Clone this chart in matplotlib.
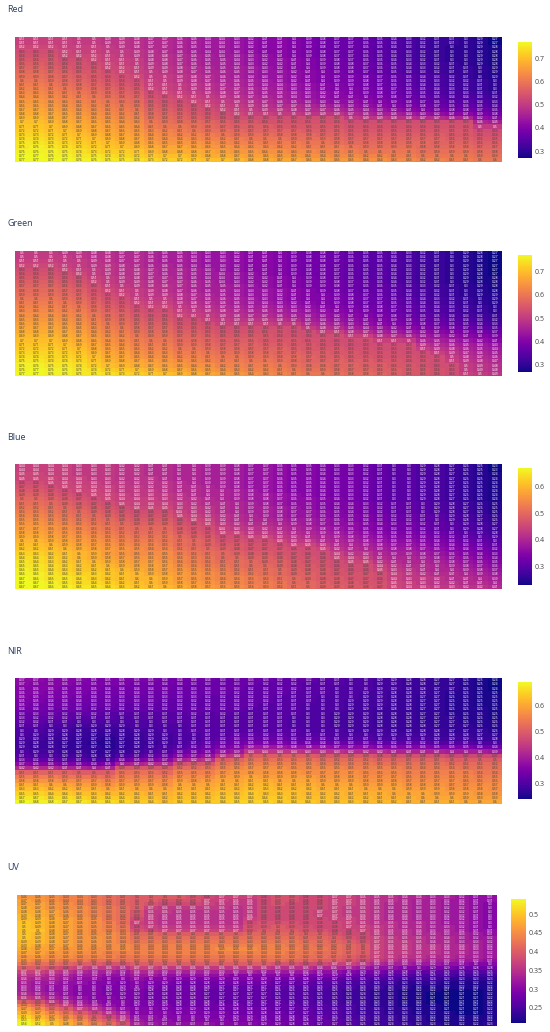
import numpy as np
import matplotlib
matplotlib.use('Agg')
import matplotlib.pyplot as plt

plt.rcParams['font.family'] = ['Open Sans', 'DejaVu Sans']

# Valores, en centesimas.
# Una cadena por columna (de izquierda a derecha), fila superior primero.
red_cols = [
    "51 51 52 53 54 55 56 57 58 59 60 61 62 63 64 65 66 67 68 69 70 71 72 73 74 75 75 76 77 77",
    "51 51 52 53 54 55 56 57 58 59 60 61 62 63 64 65 66 67 68 69 70 71 72 73 74 75 76 76 77 77",
    "51 51 52 53 54 55 55 56 57 58 59 60 61 62 63 64 65 66 67 68 69 70 71 72 73 74 75 76 76 77",
    "51 51 51 52 52 53 54 55 56 57 58 59 60 61 62 63 64 65 66 67 68 69 70 71 72 73 74 75 76 77",
    "50 50 51 51 52 53 54 54 55 56 57 58 59 60 61 62 63 64 65 66 67 68 69 70 71 72 73 74 75 76",
    "50 50 51 51 52 52 53 54 55 55 56 57 58 59 60 61 62 63 64 65 66 67 68 69 70 71 72 73 75 76",
    "49 49 50 50 51 51 52 52 53 54 55 56 57 58 59 60 61 62 63 64 65 66 67 68 69 70 71 72 74 75",
    "49 49 49 50 50 51 51 52 52 53 54 55 56 57 58 59 60 61 62 63 64 65 66 67 68 69 70 72 73 75",
    "48 48 48 49 49 50 50 51 51 52 53 54 55 56 57 58 59 60 61 62 63 64 65 66 67 68 69 71 72 74",
    "47 47 47 48 48 48 49 49 50 50 51 51 52 53 54 55 56 57 58 59 60 61 63 64 65 66 68 69 71 73",
    "47 47 47 47 48 48 48 49 49 50 50 51 51 52 53 54 55 56 57 58 59 60 62 63 64 65 67 68 70 72",
    "46 46 46 46 47 47 47 48 48 49 49 50 50 51 52 53 54 55 56 57 58 60 61 62 64 65 67 68 70 72",
    "45 45 45 45 46 46 46 47 47 48 48 49 49 50 51 52 53 54 55 56 58 59 60 62 63 65 66 68 69 71",
    "44 44 44 44 45 45 45 46 46 47 47 48 48 49 50 51 52 53 54 55 57 58 59 61 62 64 65 67 68 70",
    "44 44 44 44 44 45 45 45 46 46 46 47 47 48 49 50 51 52 53 54 56 57 59 60 62 63 65 66 68 70",
    "43 43 43 43 44 44 44 45 45 45 46 46 47 47 48 49 50 51 52 53 55 56 58 59 61 62 64 65 67 69",
    "42 42 42 42 43 43 43 44 44 44 45 45 46 46 47 48 49 50 51 53 55 56 57 59 60 62 63 65 66 68",
    "41 41 41 41 42 42 42 43 43 43 44 44 45 45 46 47 48 49 51 53 54 56 57 59 60 61 63 64 66 68",
    "41 41 41 41 41 42 42 42 43 43 43 44 44 45 45 46 47 49 50 53 54 55 57 58 60 61 62 64 65 67",
    "40 40 40 40 40 41 41 41 42 42 42 43 43 44 44 45 47 48 50 53 54 55 57 58 59 61 62 63 65 67",
    "39 39 39 39 39 40 40 40 41 41 41 42 42 43 43 44 46 47 49 53 54 55 56 58 59 60 61 63 64 66",
    "38 38 38 38 38 39 39 39 40 40 40 41 41 42 42 43 45 47 49 53 54 55 56 57 59 60 61 62 64 66",
    "37 37 37 37 37 38 38 38 39 39 39 40 40 41 41 42 44 46 49 53 54 55 56 57 58 59 61 62 63 65",
    "37 37 37 37 37 37 38 38 38 39 39 39 40 40 41 42 43 45 47 50 53 54 55 56 57 58 60 61 63 65",
    "36 36 36 36 36 36 37 37 37 38 38 38 39 39 40 41 42 44 46 49 53 54 55 56 57 58 59 60 62 64",
    "35 35 35 35 35 35 36 36 36 37 37 37 38 38 39 40 41 43 45 49 53 54 55 56 57 58 59 60 62 64",
    "34 34 34 34 34 34 35 35 35 36 36 36 37 37 38 39 40 42 45 48 53 54 55 56 57 58 59 60 61 63",
    "33 33 33 33 33 33 34 34 34 35 35 35 36 36 37 38 39 41 44 48 53 54 55 56 57 58 59 60 61 63",
    "32 32 32 32 32 32 33 33 33 34 34 34 35 35 36 37 38 40 43 47 53 54 55 56 57 58 58 59 60 62",
    "31 31 31 31 31 31 32 32 32 33 33 33 34 34 35 36 37 39 42 47 53 54 55 56 57 57 58 59 60 62",
    "31 31 30 30 30 30 31 31 31 32 32 32 33 33 34 35 36 38 41 46 53 54 55 55 56 57 58 59 60 61",
    "30 30 30 30 30 30 30 31 31 31 32 32 32 33 34 35 36 38 41 46 53 54 55 55 56 57 58 59 60 61",
    "29 29 29 29 29 29 29 30 30 30 31 31 31 32 33 34 35 37 39 42 46 50 53 54 55 56 57 58 59 60",
    "27 27 28 28 28 28 28 29 29 29 30 30 30 31 32 33 34 36 38 41 45 50 53 54 55 56 57 58 59 60",
]

green_cols = [
    "50 50 51 52 53 54 55 56 57 58 59 60 61 62 63 64 65 66 67 68 69 70 71 72 73 74 75 76 76 77",
    "50 50 51 52 53 54 55 56 57 58 59 60 61 62 63 64 65 66 67 68 69 70 71 72 73 74 75 76 77 77",
    "50 50 51 52 53 54 55 56 57 58 59 60 61 62 63 64 65 66 67 68 69 70 71 72 73 73 74 75 76 76",
    "49 50 50 51 52 53 54 55 56 57 58 59 60 61 62 63 64 65 66 67 68 69 70 71 72 73 74 75 76 76",
    "49 49 50 50 51 52 53 54 55 56 57 58 59 60 61 62 63 64 65 66 67 68 69 70 71 72 73 74 75 75",
    "48 48 49 49 50 50 51 52 53 54 55 56 57 58 59 60 61 62 63 64 65 66 67 68 69 70 71 72 74 75",
    "48 48 48 49 49 49 50 50 51 52 53 54 55 56 57 58 59 60 61 62 63 64 65 66 67 68 69 70 72 74",
    "47 47 47 48 48 48 49 49 50 51 52 53 54 55 56 57 58 59 60 61 62 63 64 65 66 67 68 69 71 73",
    "47 47 47 47 48 48 48 49 49 50 50 51 52 53 54 55 56 57 58 59 60 61 62 63 64 65 67 68 70 72",
    "46 46 46 46 47 47 47 48 48 49 49 50 51 52 53 54 55 56 57 58 59 60 61 62 63 64 66 67 69 71",
    "45 45 45 46 46 46 47 47 48 48 49 50 51 52 53 54 55 56 57 58 59 60 61 62 63 64 65 66 68 70",
    "45 45 45 45 46 46 46 47 47 47 48 48 49 50 51 52 53 54 55 56 57 58 59 60 61 62 64 65 67 69",
    "44 44 44 44 45 45 45 46 46 46 47 47 48 49 50 51 53 54 55 56 57 58 59 60 61 62 63 64 66 68",
    "43 43 43 43 44 44 44 45 45 45 46 46 47 48 49 50 51 53 54 55 56 57 58 59 60 61 62 64 65 67",
    "43 43 43 43 43 44 44 44 45 45 45 46 46 47 48 49 50 51 53 54 55 56 57 58 59 60 61 62 64 66",
    "42 42 42 42 42 43 43 43 44 44 44 45 45 46 47 48 49 51 53 54 55 56 57 58 59 60 61 62 63 65",
    "41 41 41 41 41 42 42 42 43 43 43 44 44 45 46 47 49 51 53 54 55 56 57 57 58 59 60 61 62 64",
    "41 41 41 41 41 41 42 42 42 43 43 43 44 45 46 47 49 51 53 54 55 55 56 57 58 59 60 61 62 63",
    "40 40 40 40 40 40 41 41 41 42 42 42 43 44 45 46 48 50 53 54 54 55 56 57 57 58 59 60 61 62",
    "39 39 39 39 39 39 40 40 40 41 41 41 42 43 44 45 47 50 53 53 54 55 55 56 57 58 58 59 60 61",
    "38 38 38 38 38 38 39 39 39 40 40 40 41 42 43 44 45 47 50 53 53 54 55 55 56 57 57 58 59 60",
    "38 38 38 38 38 38 38 39 39 39 40 40 40 41 42 43 44 46 48 51 53 54 54 55 56 56 57 58 59 60",
    "37 37 37 37 37 37 37 38 38 38 39 39 39 40 41 42 43 45 47 51 53 53 54 55 55 56 57 57 58 59",
    "36 36 36 36 36 36 36 37 37 37 38 38 38 39 40 41 42 43 45 48 51 53 53 54 55 55 56 57 57 58",
    "35 35 35 35 35 35 35 36 36 36 37 37 37 38 39 40 41 42 44 47 51 53 53 54 54 55 56 56 57 58",
    "35 35 35 35 35 35 35 35 36 36 36 37 37 38 38 39 40 41 43 45 48 51 53 53 54 54 55 56 56 57",
    "34 34 34 34 34 34 34 34 35 35 35 36 36 37 37 38 39 40 42 44 47 51 53 53 54 54 55 55 56 56",
    "33 33 33 33 33 33 33 33 34 34 34 35 35 36 36 37 38 39 41 43 46 50 53 53 53 54 54 55 55 55",
    "32 32 32 32 32 32 32 32 33 33 33 34 34 35 35 36 37 38 40 42 44 46 49 51 53 53 54 54 55 55",
    "31 31 31 31 31 31 31 31 32 32 32 33 33 34 34 35 36 37 39 41 43 45 47 49 51 53 53 53 54 54",
    "30 30 30 30 30 30 30 30 31 31 31 32 32 33 33 34 35 36 38 40 42 44 46 48 49 50 51 53 53 53",
    "29 29 29 29 29 29 29 29 30 30 30 31 31 32 32 33 34 35 37 39 41 43 45 46 47 48 49 50 50 51",
    "28 28 28 28 28 28 28 28 29 29 29 30 30 31 31 32 33 34 36 38 40 42 44 45 46 47 48 49 49 50",
    "27 27 27 27 27 27 28 28 28 28 29 29 29 30 30 31 32 33 35 37 39 41 43 44 45 46 47 48 48 49",
]

blue_cols = [
    "44 44 45 45 46 47 48 49 50 51 52 53 54 55 56 57 58 59 60 61 62 63 64 65 65 66 66 67 67 67",
    "44 44 45 45 46 47 48 49 50 51 52 53 54 55 56 57 58 59 60 61 62 63 64 64 65 65 66 66 67 67",
    "44 44 44 45 45 46 47 48 49 50 51 52 53 54 55 56 57 58 59 60 61 62 63 63 64 64 65 65 66 66",
    "44 44 44 44 45 45 46 47 48 49 50 51 52 53 54 55 56 57 58 59 60 61 62 62 63 63 64 65 65 66",
    "43 43 43 44 44 45 45 46 47 48 49 50 51 52 53 54 55 56 57 58 59 60 60 61 62 62 63 64 64 65",
    "43 43 43 43 44 44 45 45 46 47 48 49 50 51 52 53 54 55 56 57 58 59 59 60 61 62 63 63 64 65",
    "43 43 43 43 43 44 44 45 45 46 47 48 49 50 51 52 53 54 55 56 57 57 58 59 60 61 62 62 63 64",
    "42 42 42 42 43 43 43 44 44 45 46 47 48 49 50 51 52 53 54 55 56 56 57 58 59 60 61 61 62 63",
    "42 42 42 42 42 43 43 43 44 44 45 46 47 48 49 50 51 52 53 54 55 55 56 57 58 59 60 60 61 62",
    "41 41 41 42 42 42 43 43 44 44 45 46 47 48 49 50 51 52 53 54 54 55 56 57 58 58 59 60 60 61",
    "41 41 41 41 42 42 42 43 43 44 45 46 47 48 49 50 51 52 52 53 54 55 55 56 57 57 58 59 59 60",
    "40 40 40 40 41 41 41 42 42 43 43 44 45 46 47 48 49 50 51 51 52 53 54 54 55 56 57 57 58 59",
    "40 40 40 40 40 41 41 41 42 42 43 43 44 45 46 47 48 49 50 50 51 52 53 53 54 55 56 56 57 58",
    "39 39 39 39 39 40 40 40 41 41 42 42 43 44 45 46 47 48 49 49 50 51 52 52 53 54 55 55 56 57",
    "39 39 39 39 39 39 40 40 40 41 41 41 42 42 43 44 45 46 47 48 49 50 50 51 52 53 54 54 55 56",
    "38 38 38 38 38 38 39 39 39 40 40 40 41 41 42 43 45 46 47 48 48 49 50 51 51 52 53 54 54 55",
    "37 37 37 37 37 37 38 38 38 39 39 39 40 40 41 42 43 45 46 47 47 48 49 50 50 51 52 53 53 54",
    "37 37 37 37 37 37 37 38 38 38 39 39 39 40 41 42 43 45 46 47 47 48 49 49 50 51 51 52 53 53",
    "36 36 36 36 36 36 36 37 37 37 38 38 38 39 40 41 42 43 45 46 47 47 48 49 49 50 50 51 52 52",
    "35 35 35 35 35 35 35 36 36 36 37 37 37 38 39 40 41 42 43 45 46 47 47 48 48 49 49 50 50 51",
    "35 35 35 35 35 35 35 35 36 36 36 37 37 38 38 39 40 41 43 45 46 46 47 47 48 48 49 49 50 50",
    "34 34 34 34 34 34 34 34 35 35 35 36 36 37 37 38 39 40 41 43 45 46 46 47 47 48 48 48 49 49",
    "33 33 33 33 33 33 33 33 34 34 34 35 35 36 36 37 38 39 40 41 42 44 45 46 46 47 47 48 48 49",
    "33 33 33 33 33 33 33 33 33 34 34 34 35 35 36 36 37 38 39 40 41 42 44 45 46 46 47 47 48 48",
    "32 32 32 32 32 32 32 32 32 33 33 33 34 34 35 35 36 37 38 39 40 42 43 45 46 46 47 47 47 48",
    "31 31 31 31 31 31 31 31 31 32 32 32 33 33 34 34 35 36 37 38 39 40 41 42 44 45 46 46 47 47",
    "30 30 30 30 30 30 30 30 30 31 31 31 32 32 33 33 34 35 36 37 38 39 40 41 42 43 44 44 45 45",
    "30 30 30 30 30 30 30 30 30 31 31 31 32 32 33 33 34 35 36 37 38 39 40 40 41 42 43 43 44 44",
    "29 29 29 29 29 29 29 29 29 30 30 30 31 31 32 32 33 34 35 36 37 38 39 40 41 41 42 43 43 44",
    "28 28 28 28 28 28 28 28 28 29 29 29 30 30 31 31 32 33 34 35 36 37 38 39 40 40 41 42 42 43",
    "27 27 27 27 27 27 27 27 27 28 28 28 29 29 30 30 31 32 33 34 35 36 37 38 39 40 41 41 42 43",
    "26 26 26 26 26 26 26 26 26 27 27 27 28 28 29 29 30 31 32 33 34 35 36 37 38 39 40 41 41 42",
    "25 25 25 25 25 25 25 25 25 26 26 26 27 27 28 28 29 30 31 32 33 34 35 36 37 38 39 40 41 42",
    "23 23 24 24 24 24 24 24 24 25 25 25 26 26 27 27 28 29 30 31 32 33 34 35 36 37 38 39 40 41",
]

nir_cols = [
    "37 37 36 36 36 35 35 34 33 33 32 31 30 30 29 29 29 30 31 33 37 42 51 55 58 61 63 65 67 69",
    "37 36 36 36 35 35 34 34 33 32 32 31 30 29 29 28 28 29 30 32 36 42 51 55 58 61 63 65 67 68",
    "36 36 36 35 35 34 34 33 33 32 31 30 29 29 28 28 28 29 30 32 36 42 51 55 58 60 62 64 66 68",
    "36 36 35 35 35 34 34 33 32 32 31 30 29 28 28 27 27 28 29 31 35 41 51 54 57 60 62 64 66 67",
    "36 35 35 35 34 34 33 33 32 31 30 29 28 28 27 27 27 28 29 31 35 41 50 54 57 59 61 63 65 67",
    "35 35 35 34 34 33 33 32 32 31 30 29 28 27 27 26 27 27 28 30 34 40 50 54 57 59 61 63 64 66",
    "35 35 34 34 34 33 33 32 31 31 30 29 28 27 26 26 26 27 28 30 35 41 50 53 56 58 60 62 64 66",
    "35 35 34 34 33 33 32 32 31 30 30 29 28 28 27 27 27 28 30 34 40 49 53 55 57 59 61 62 64 65",
    "35 34 34 34 33 33 32 32 31 31 30 30 29 28 28 28 28 29 31 35 41 49 53 55 57 59 60 62 63 64",
    "35 34 34 33 33 33 32 32 31 31 30 30 29 29 29 28 29 30 32 36 42 49 53 55 57 59 60 61 63 64",
    "34 34 34 33 33 32 32 32 31 31 31 30 30 29 29 29 30 31 33 37 42 49 52 55 57 58 60 61 62 63",
    "34 34 33 33 33 32 32 32 31 31 31 30 30 30 30 30 31 33 36 41 48 52 55 57 59 60 61 62 63 64",
    "34 33 33 33 33 32 32 32 32 31 31 31 31 30 30 31 32 34 37 42 49 52 55 57 58 60 61 62 63 64",
    "34 33 33 33 32 32 32 32 31 31 31 31 31 31 31 32 33 35 38 43 49 53 55 57 59 60 61 62 63 64",
    "33 33 33 33 32 32 32 32 32 31 31 31 31 31 32 33 35 38 43 50 53 55 57 59 60 61 62 63 64 64",
    "33 33 33 32 32 32 32 32 31 31 31 31 31 32 33 34 36 39 44 51 54 56 58 59 60 61 62 63 64 65",
    "33 33 32 32 32 32 32 31 31 31 31 31 31 32 33 35 39 44 50 53 55 57 58 60 61 62 63 64 64 65",
    "33 32 32 32 32 32 31 31 31 31 31 31 31 32 33 35 39 44 50 53 55 57 58 59 61 62 63 63 64 65",
    "32 32 32 32 31 31 31 31 31 31 31 31 31 32 33 35 39 44 50 53 55 57 58 59 60 61 62 63 64 64",
    "32 32 32 31 31 31 31 31 31 30 30 30 31 31 32 34 38 44 50 53 55 56 58 59 60 61 62 63 63 64",
    "32 31 31 31 31 31 30 30 30 30 30 30 30 31 32 34 38 43 50 53 55 56 57 59 60 61 62 62 63 64",
    "31 31 31 31 30 30 30 30 30 30 30 30 30 31 32 34 38 43 49 52 54 56 57 58 59 60 61 62 63 63",
    "31 31 30 30 30 30 30 30 29 29 29 29 30 30 31 33 37 43 49 52 54 56 57 58 59 60 61 62 62 63",
    "30 30 30 30 30 29 29 29 29 29 29 29 29 30 31 33 37 42 49 52 54 55 57 58 59 60 61 61 62 63",
    "30 30 30 29 29 29 29 29 29 29 29 29 29 30 31 33 37 42 49 52 54 55 56 57 58 59 60 61 62 62",
    "29 29 29 29 29 29 29 28 28 28 28 28 29 29 30 32 36 42 48 51 53 55 56 57 58 59 60 61 61 62",
    "29 29 29 28 28 28 28 28 28 28 28 28 28 29 30 32 36 41 48 51 53 55 56 57 58 59 60 60 61 62",
    "28 28 28 28 28 28 28 28 28 28 28 28 28 29 30 32 36 41 48 51 53 54 55 56 57 58 59 60 61 61",
    "28 28 28 28 27 27 27 27 27 27 27 28 28 29 30 32 36 41 48 51 53 54 55 56 57 58 59 60 60 61",
    "27 27 27 27 27 27 27 27 27 27 27 27 28 28 29 31 35 41 48 51 53 54 55 56 57 58 59 59 60 61",
    "27 27 27 26 26 26 26 26 26 27 27 27 27 28 29 31 35 40 47 50 52 54 55 56 57 57 58 59 60 61",
    "26 26 26 26 26 26 26 26 26 26 26 27 27 28 29 31 35 40 47 50 52 53 55 56 56 57 58 59 59 60",
    "25 25 25 25 25 25 25 26 26 26 26 26 27 27 28 30 34 40 47 50 52 53 54 55 56 57 58 58 59 60",
    "24 24 24 25 25 25 25 25 25 25 26 26 26 27 28 30 34 39 47 50 52 53 54 55 56 57 57 58 59 60",
]

uv_cols = [
    "46 47 47 48 48 49 49 50 50 50 50 50 49 49 48 47 46 45 43 40 37 35 34 33 33 33 34 36 40 44 47 49 51 53 54",
    "46 46 47 47 48 48 49 49 49 50 49 49 49 48 47 47 46 44 42 40 37 35 33 32 32 32 33 35 39 42 45 47 49 51 52",
    "45 45 46 46 47 47 48 48 48 48 48 48 48 47 47 46 45 44 42 39 36 34 33 32 31 31 32 33 36 39 42 45 47 49 50",
    "44 44 45 45 46 46 47 47 47 47 47 47 47 47 46 46 45 43 41 38 35 33 32 31 31 31 31 32 34 37 40 43 45 47 48",
    "44 44 44 45 45 45 46 46 46 46 46 46 46 46 46 45 44 43 40 37 34 32 31 31 30 30 30 31 32 34 37 40 43 45 46",
    "43 43 43 44 44 44 45 45 45 45 45 46 46 46 45 45 44 42 40 36 33 32 31 30 30 30 30 30 31 33 35 38 40 42 44",
    "42 42 42 43 43 43 43 44 44 44 45 45 45 45 45 44 44 42 39 36 33 31 30 30 29 29 29 30 30 31 33 35 38 40 42",
    "41 41 41 42 42 42 42 42 43 43 44 44 44 45 45 44 43 42 39 35 32 31 30 29 29 29 29 29 30 30 31 33 35 37 39",
    "40 40 40 40 39 39 38 37 38 39 41 42 43 44 44 44 43 42 40 37 34 32 31 30 30 29 29 29 29 29 30 30 31 32 33",
    "40 40 39 37 36 36 36 36 37 38 41 42 43 44 44 44 43 42 40 37 34 32 30 29 29 28 28 28 29 29 30 30 31 31 32",
    "40 39 38 36 36 35 35 35 36 37 40 42 43 44 44 44 43 42 40 36 33 31 30 29 28 28 28 28 28 29 29 30 30 31 31",
    "40 39 38 36 35 35 35 35 36 37 40 42 43 44 44 44 43 42 40 36 33 31 29 28 28 28 28 28 28 28 29 29 30 30 31",
    "39 39 38 36 35 35 35 35 36 37 40 42 43 44 44 44 43 42 40 36 33 31 29 28 28 28 28 28 28 28 29 29 30 30 31",
    "38 37 37 36 35 35 35 35 36 37 40 42 43 44 44 44 43 42 40 36 33 31 29 28 28 27 27 27 28 28 28 29 29 30 31",
    "37 37 36 36 35 35 35 35 36 37 40 42 43 44 45 44 43 42 40 36 33 31 29 28 27 27 27 27 27 28 28 29 29 30 30",
    "37 36 36 35 35 35 35 35 36 37 40 42 43 44 45 44 43 42 40 36 33 30 29 28 27 27 27 27 27 28 28 28 29 29 30",
    "37 36 36 36 36 36 37 38 39 39 41 42 43 44 45 44 43 42 40 36 33 30 29 28 27 27 27 27 27 27 28 28 29 29 30",
    "38 38 38 38 38 38 38 39 39 40 41 42 43 44 44 44 43 42 40 36 32 30 29 28 27 27 27 27 27 27 28 28 28 29 29",
    "39 39 39 38 38 38 38 39 40 40 41 42 43 44 44 44 43 42 39 35 32 30 28 27 27 26 26 26 27 27 27 28 28 28 29",
    "39 39 38 38 38 38 38 39 39 40 41 42 43 43 44 43 43 41 39 35 32 30 28 27 26 26 26 26 26 27 27 27 28 28 28",
    "38 38 38 38 38 38 38 38 39 39 40 41 42 43 43 43 42 41 38 35 32 29 28 27 26 26 26 26 26 26 27 27 27 28 28",
    "38 38 38 38 37 37 38 38 38 39 40 41 42 42 43 42 42 40 38 34 31 29 27 26 26 25 25 25 25 26 26 26 27 27 27",
    "37 37 37 37 37 37 37 38 38 38 39 40 41 42 42 42 41 40 37 34 31 29 27 26 25 25 25 25 25 25 26 26 26 27 27",
    "37 37 37 36 36 36 37 37 37 38 38 39 40 41 41 41 40 39 37 33 30 28 26 25 25 24 24 24 24 25 25 25 25 26 26",
    "36 36 36 36 36 36 36 36 37 37 38 38 39 40 40 40 39 38 36 32 29 27 26 25 24 24 24 24 24 24 24 24 25 25 25",
    "35 35 35 35 35 35 35 35 36 36 36 37 37 37 37 37 37 36 34 31 29 27 25 24 24 23 23 23 23 23 24 24 24 24 24",
    "35 35 34 34 34 34 34 35 35 35 35 36 36 36 36 36 36 35 33 31 28 26 25 24 23 23 23 23 23 23 23 23 24 24 24",
    "34 34 34 34 34 34 34 34 34 35 35 35 36 36 36 36 35 34 33 30 28 26 24 23 23 22 22 22 22 22 23 23 23 23 24",
    "34 33 33 33 33 33 33 34 34 34 34 35 35 35 35 35 35 34 32 30 27 25 24 23 22 22 22 22 22 22 22 22 23 23 23",
    "33 33 33 33 33 33 33 33 33 33 34 34 34 35 35 35 34 33 32 29 27 25 24 23 22 22 21 21 21 22 22 22 22 22 23",
    "33 32 32 32 32 32 32 32 33 33 33 34 34 34 34 34 34 33 31 29 26 25 23 22 22 21 21 21 21 21 21 22 22 22 22",
    "32 32 32 32 32 32 32 32 32 32 33 33 33 34 34 34 33 32 31 28 26 24 23 22 22 21 21 21 21 21 21 21 22 22 22",
    "31 31 31 31 31 31 31 31 31 31 32 32 33 33 33 33 33 32 30 28 26 24 23 22 22 21 21 21 21 21 21 21 22 22 22",
    "31 31 30 30 30 30 30 30 30 31 31 32 32 32 32 32 32 31 30 28 26 24 23 22 22 22 22 22 22 22 22 22 22 22 23",
]

band_names = ['Red', 'Green', 'Blue', 'NIR', 'UV']
band_cols = [red_cols, green_cols, blue_cols, nir_cols, uv_cols]
cbar_ticks = [
    [0.3, 0.4, 0.5, 0.6, 0.7],
    [0.3, 0.4, 0.5, 0.6, 0.7],
    [0.3, 0.4, 0.5, 0.6],
    [0.3, 0.4, 0.5, 0.6],
    [0.25, 0.3, 0.35, 0.4, 0.45, 0.5],
]

W, H = 550, 1032
# cajas en pixeles (x0, y0, x1, y1), y medido desde arriba
heat_boxes = [(15, 37, 502, 162), (15, 251, 502, 376), (15, 464, 502, 589),
              (15, 678, 502, 804), (17, 895, 497, 1026)]
cbar_boxes = [(518, 42, 532, 158), (518, 255, 532, 372), (518, 468, 532, 585),
              (518, 682, 532, 799), (511, 899, 526, 1023)]


def box(x0, y0, x1, y1):
    return [x0 / W, 1 - y1 / H, (x1 - x0) / W, (y1 - y0) / H]


def to_grid(cols):
    rows = [[int(v) for v in c.split()] for c in cols]
    n = len(rows[0])
    for k, r in enumerate(rows):
        assert len(r) == n, (k, len(r))
    return np.array(rows).T / 100


fig = plt.figure(figsize=(W / 100, H / 100), dpi=100)

for name, cols, ticks, hb, cbb in zip(band_names, band_cols, cbar_ticks,
                                      heat_boxes, cbar_boxes):
    z = to_grid(cols)
    zmin, zmax = z.min(), z.max()

    ax = fig.add_axes(box(*hb))
    im = ax.imshow(z, cmap='plasma', vmin=zmin, vmax=zmax, aspect='auto',
                   interpolation='nearest')
    ax.set_axis_off()

    for i in range(z.shape[0]):
        for j in range(z.shape[1]):
            v = z[i, j]
            color = 'white' if (v - zmin) / (zmax - zmin) < 0.51 else '#444444'
            ax.text(j, i, f'{v:g}', ha='center', va='center', fontsize=2.4,
                    color=color)

    # titulo del panel
    fig.text(7 / W, 1 - (hb[1] - 27) / H, name, fontsize=6.5,
             color='#2a3f5f', ha='left', va='center')

    # barra de color
    cax = fig.add_axes(box(*cbb))
    cb = fig.colorbar(im, cax=cax, ticks=ticks)
    cb.outline.set_visible(False)
    cb.ax.tick_params(length=0, labelsize=5, colors='#444444', pad=2)
    cb.ax.set_yticklabels([f'{t:g}' for t in ticks])

fig.savefig('out.png', dpi=100)
